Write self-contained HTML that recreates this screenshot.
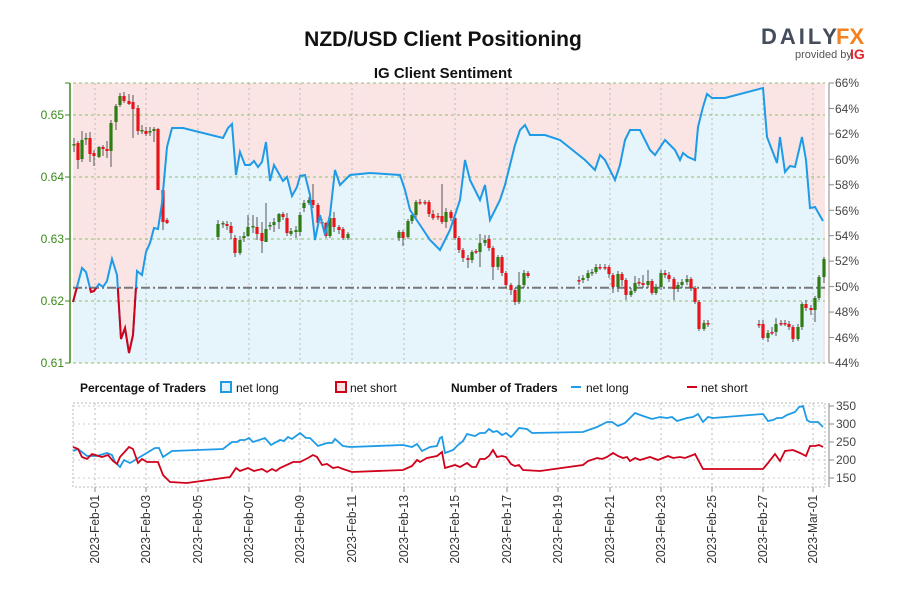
<!DOCTYPE html>
<html><head><meta charset="utf-8">
<style>
body{margin:0;background:#fff;width:900px;height:600px;overflow:hidden;font-family:"Liberation Sans",sans-serif;}
svg text{font-family:"Liberation Sans",sans-serif;}
</style></head>
<body>
<svg id="s" width="900" height="600" xmlns="http://www.w3.org/2000/svg">
<defs>
<clipPath id="below"><rect x="60" y="287.7" width="780" height="80"/></clipPath>
<clipPath id="plot"><rect x="73" y="83" width="752" height="280"/></clipPath>
</defs>
<rect x="0" y="0" width="900" height="600" fill="#fff"/>
<text x="443" y="46" text-anchor="middle" font-size="21" font-weight="bold" fill="#111">NZD/USD Client Positioning</text>
<text x="443" y="78" text-anchor="middle" font-size="15" font-weight="bold" fill="#111">IG Client Sentiment</text>
<text x="761" y="44" font-size="22" font-weight="bold" fill="#454c5c" letter-spacing="3">DAILY</text>
<text x="836" y="44" font-size="22" font-weight="bold" fill="#f58220">FX</text>
<text x="795" y="58" font-size="11" fill="#555">provided by</text>
<text x="850" y="59" font-size="14" font-weight="bold" fill="#e2242b">IG</text>

<rect x="73" y="83" width="752" height="280" fill="#fbe4e4"/>
<path id="fill" fill="#e6f4fb" clip-path="url(#plot)"/>
<g id="grid"></g>
<line x1="73" y1="287.7" x2="825" y2="287.7" stroke="#777" stroke-width="2" stroke-dasharray="9,3,2,3"/>
<g id="candles"></g>
<polyline id="lineB" fill="none" stroke="#1e9be6" stroke-width="2"/>
<polyline id="lineR" fill="none" stroke="#d0021b" stroke-width="2" clip-path="url(#below)"/>

<line x1="70" y1="83" x2="70" y2="363" stroke="#3a8a1a" stroke-width="1.5"/>
<g fill="#3a8a1a" font-size="12" text-anchor="end">
<text x="64" y="119">0.65</text><text x="64" y="181">0.64</text><text x="64" y="243">0.63</text><text x="64" y="305">0.62</text><text x="64" y="367">0.61</text>
</g>
<g id="lt" stroke="#3a8a1a"></g>
<line x1="829" y1="83" x2="829" y2="363" stroke="#888" stroke-width="1"/>
<g id="rt" stroke="#888"></g>
<g fill="#444" font-size="12">
<text x="835" y="87">66%</text><text x="835" y="113">64%</text><text x="835" y="138">62%</text><text x="835" y="164">60%</text><text x="835" y="189">58%</text><text x="835" y="215">56%</text><text x="835" y="240">54%</text><text x="835" y="265">52%</text><text x="835" y="291">50%</text><text x="835" y="316">48%</text><text x="835" y="342">46%</text><text x="835" y="367">44%</text>
</g>

<g font-size="12" fill="#111">
<text x="80" y="392" font-weight="bold">Percentage of Traders</text>
<rect x="221" y="382" width="10" height="10" fill="#e6f4fb" stroke="#1e9be6" stroke-width="2"/>
<text x="236" y="392">net long</text>
<rect x="336" y="382" width="10" height="10" fill="#fbe4e4" stroke="#d0021b" stroke-width="2"/>
<text x="350" y="392">net short</text>
<text x="451" y="392" font-weight="bold">Number of Traders</text>
<line x1="571" y1="387" x2="581" y2="387" stroke="#1e9be6" stroke-width="2"/>
<text x="586" y="392">net long</text>
<line x1="687" y1="387" x2="697" y2="387" stroke="#d0021b" stroke-width="2"/>
<text x="701" y="392">net short</text>
</g>

<rect x="73" y="403" width="752" height="84" fill="none" stroke="#bbb" stroke-dasharray="2,2"/>
<g id="grid2"></g>
<line x1="829" y1="403" x2="829" y2="487" stroke="#888"/>
<g id="rt2" stroke="#888"></g>
<g fill="#444" font-size="12">
<text x="836" y="410">350</text><text x="836" y="428">300</text><text x="836" y="446">250</text><text x="836" y="464">200</text><text x="836" y="482">150</text>
</g>
<polyline id="bl2" fill="none" stroke="#1e9be6" stroke-width="1.8"/>
<polyline id="rl2" fill="none" stroke="#d0021b" stroke-width="1.8"/>
<g id="dates" font-size="12" fill="#333"></g>
</svg>
<script>
const NS="http://www.w3.org/2000/svg";
function el(p,t,a){const e=document.createElementNS(NS,t);for(const k in a)e.setAttribute(k,a[k]);p.appendChild(e);return e;}
const g=document.getElementById('grid'),g2=document.getElementById('grid2');
const tx=[95,146,198,249,300,352,404,455,507,558,610,661,712,763,813];
const names=["2023-Feb-01","2023-Feb-03","2023-Feb-05","2023-Feb-07","2023-Feb-09","2023-Feb-11","2023-Feb-13","2023-Feb-15","2023-Feb-17","2023-Feb-19","2023-Feb-21","2023-Feb-23","2023-Feb-25","2023-Feb-27","2023-Mar-01"];
tx.forEach((x,i)=>{
 el(g,'line',{x1:x,y1:83,x2:x,y2:363,stroke:'#bbb','stroke-dasharray':'2,3'});
 el(g2,'line',{x1:x,y1:403,x2:x,y2:487,stroke:'#bbb','stroke-dasharray':'2,3'});
 el(g2,'line',{x1:x,y1:487,x2:x,y2:492,stroke:'#888'});
});
[83,115,177,239,301,363].forEach(y=>{el(g,'line',{x1:73,y1:y,x2:825,y2:y,stroke:'#8fbf6a','stroke-dasharray':'3,3'});});
const lt=document.getElementById('lt');[115,177,239,301,363,83].forEach(y=>el(lt,'line',{x1:65,y1:y,x2:70,y2:y}));
const rt=document.getElementById('rt');for(let i=0;i<=11;i++){const y=83+i*25.45;el(rt,'line',{x1:829,y1:y,x2:834,y2:y});}
const rt2=document.getElementById('rt2');[406,424,442,460,478].forEach(y=>{el(rt2,'line',{x1:829,y1:y,x2:834,y2:y});el(g2,'line',{x1:73,y1:y,x2:825,y2:y,stroke:'#ccc','stroke-dasharray':'2,3'});});
const dg=document.getElementById('dates');
tx.forEach((x,i)=>{const t=el(dg,'text',{x:0,y:0,'text-anchor':'end',transform:`translate(${x+4},495) rotate(-90) scale(1,1.1)`});t.textContent=names[i];});

const L=[[73,302],[77,287],[82,268],[86,272],[91,292],[94,291],[99,284],[103,287],[107,281],[112,259],[117,275],[121,339],[125,328],[129,353],[133,335],[137,271],[142,275],[146,252],[150,243],[154,228],[158,229],[162,203],[167,147],[172,128],[183,128],[223,138],[228,128],[232,124],[236,175],[240,152],[245,165],[250,165],[254,161],[258,167],[262,162],[266,142],[270,181],[274,165],[283,181],[287,177],[292,196],[297,187],[300,176],[305,175],[310,195],[315,240],[320,215],[325,235],[330,215],[335,170],[340,185],[350,175],[370,173],[400,175],[405,190],[410,210],[420,225],[430,240],[440,250],[445,240],[450,230],[460,200],[465,160],[470,180],[480,200],[485,185],[490,220],[495,210],[500,200],[505,185],[510,165],[515,145],[520,130],[525,125],[530,135],[545,135],[560,140],[585,160],[595,170],[600,155],[605,160],[610,170],[615,180],[620,165],[625,140],[630,130],[640,130],[650,150],[655,155],[665,140],[675,150],[680,160],[683,153],[688,157],[695,160],[698,127],[703,107],[707,94],[712,98],[725,98],[763,88],[767,137],[772,150],[777,163],[780,137],[785,172],[790,166],[795,167],[802,137],[806,160],[810,208],[815,207],[823,221]];
const pts=L.map(p=>p.join(',')).join(' ');
document.getElementById('lineB').setAttribute('points',pts);
document.getElementById('lineR').setAttribute('points',pts);
document.getElementById('fill').setAttribute('d','M73,363 L'+pts.replace(/ /g,' L')+' L823,363 L825,363 Z');

const C=[[74,145,144,138,152],[78,143,160,141,169],[82,159,140,131,162],[86,139,138,133,145],[90,138,154,132,162],[94,153,156,150,166],[99,157,147,146,158],[103,147,149,145,156],[107,149,151,141,158],[111,151,123,120,167],[116,122,106,104,130],[120,105,96,93,107],[124,96,101,92,103],[129,101,104,94,105],[133,102,109,95,138],[138,108,131,105,135],[142,131,130,125,134],[146,131,134,127,136],[150,132,131,127,136],[154,131,129,127,142],[158,129,190,128,190],[163,190,222,190,230],[167,220,223,218,224],
[218,237,224,220,240],[223,224,223,221,228],[227,224,226,221,230],[231,226,233,222,239],[235,238,253,235,257],[240,253,240,236,255],[244,238,236,232,242],[248,236,227,215,237],[253,227,226,215,233],[257,227,234,217,240],[262,233,241,222,253],[266,242,229,203,242],[270,226,225,222,230],[274,225,222,218,232],[279,222,214,213,229],[283,214,217,212,220],[287,218,233,213,236],[291,234,231,228,236],[296,232,230,226,238],[300,232,215,212,236],[304,208,203,200,212],[309,203,200,197,205],[313,200,205,184,208],[318,205,223,203,226],[322,222,223,219,226],[326,223,236,222,238],[330,236,218,215,238],[334,218,227,212,232],[339,227,230,225,234],[343,229,238,227,240],[348,238,234,232,240],
[399,238,232,230,241],[403,232,238,230,246],[408,237,221,219,239],[412,221,215,213,224],[416,215,202,200,218],[420,202,202,199,205],[425,202,203,200,205],[429,202,214,200,217],[433,214,218,210,220],[438,216,217,213,220],[442,216,222,184,224],[446,222,212,208,228],[451,212,218,210,221],[455,218,238,216,240],[459,238,250,236,253],[463,250,258,248,262],[468,258,260,255,268],[472,260,252,250,263],[476,251,252,249,254],[480,252,243,234,267],[485,243,240,235,246],[489,239,248,235,251],[493,248,267,246,280],[498,267,257,255,270],[502,257,273,255,276],[506,273,285,271,288],[511,285,290,283,295],[515,290,302,288,305],[519,302,285,272,304],[524,285,273,270,288],[528,273,276,271,278],
[579,280,280,276,285],[583,280,278,275,283],[588,278,273,270,281],[592,273,272,269,276],[596,272,267,264,274],[600,267,267,264,270],[605,267,267,264,270],[609,267,274,265,278],[613,275,287,273,293],[618,287,274,271,292],[622,274,280,272,286],[626,280,295,278,300],[631,295,291,288,297],[635,291,283,276,293],[639,282,283,278,286],[643,283,285,275,288],[648,285,281,270,288],[652,281,293,279,295],[656,293,287,284,295],[661,287,273,270,290],[665,273,275,270,278],[669,275,279,272,282],[674,279,289,277,300],[678,289,285,282,292],[682,285,282,279,288],[687,282,279,275,285],[691,279,288,277,291],[695,288,302,286,304],[699,302,329,300,331],[704,329,323,320,331],[708,323,323,320,327],
[759,324,324,320,328],[763,324,338,320,340],[768,338,333,330,342],[772,332,332,327,335],[776,332,324,318,336],[781,323,323,320,326],[785,323,323,320,326],[789,324,327,321,330],[793,327,339,325,342],[798,339,327,324,341],[802,327,304,302,330],[806,304,308,300,311],[811,308,310,305,315],[815,310,298,296,322],[819,298,277,275,300],[824,277,259,257,283]];
const cg=document.getElementById('candles');
C.forEach(([x,o,c,h,l])=>{
 el(cg,'line',{x1:x,y1:h,x2:x,y2:l,stroke:'#555','stroke-width':1});
 const up=c<o, top=Math.min(o,c), hh=Math.max(1.5,Math.abs(o-c));
 el(cg,'rect',{x:x-1.6,y:top,width:3.2,height:hh,fill:up?'#2e7d12':'#e8141c'});
});

const B=[[73,451],[78,449],[87,456],[97,456],[107,453],[112,455],[115,462],[120,467],[124,460],[130,463],[140,457],[150,451],[155,448],[159,448],[163,457],[172,451],[223,449],[232,442],[237,442],[240,440],[245,440],[249,438],[253,442],[265,438],[271,445],[280,440],[284,441],[288,437],[292,439],[300,433],[306,438],[310,438],[318,446],[327,443],[332,443],[335,439],[343,446],[350,447],[403,445],[412,447],[417,444],[422,451],[430,447],[437,446],[440,438],[442,437],[445,453],[453,450],[458,445],[463,441],[467,434],[475,436],[480,433],[485,433],[489,429],[493,432],[497,431],[502,435],[506,433],[511,437],[514,434],[519,428],[527,429],[532,433],[583,432],[597,427],[607,422],[612,422],[618,426],[625,423],[635,413],[643,416],[652,419],[660,417],[667,418],[672,417],[677,421],[687,418],[693,417],[698,414],[703,422],[708,417],[713,418],[763,414],[768,421],[773,420],[777,418],[782,418],[787,415],[795,412],[799,407],[803,406],[807,420],[810,422],[818,422],[823,427]];
const R=[[73,447],[78,449],[82,457],[87,459],[92,454],[102,457],[108,455],[113,461],[117,464],[120,457],[129,447],[133,449],[138,463],[142,459],[147,462],[158,462],[163,475],[170,482],[187,483],[230,477],[236,468],[240,471],[248,468],[254,471],[262,469],[267,472],[272,469],[276,471],[280,468],[293,462],[300,462],[308,458],[313,455],[317,457],[322,465],[327,464],[333,468],[338,467],[343,469],[352,472],[403,470],[412,466],[417,460],[420,462],[427,458],[437,456],[442,452],[445,468],[455,465],[460,467],[467,463],[472,467],[476,467],[480,459],[485,459],[489,456],[493,450],[497,457],[502,456],[506,457],[511,464],[515,466],[519,465],[523,470],[540,471],[583,465],[588,461],[597,458],[602,459],[607,457],[613,453],[618,456],[623,458],[627,457],[630,461],[635,458],[640,460],[650,457],[658,460],[668,456],[673,458],[680,457],[685,458],[693,455],[695,454],[703,469],[763,469],[768,463],[775,454],[780,461],[785,451],[793,450],[800,453],[806,456],[810,446],[815,446],[819,445],[823,447]];
document.getElementById('bl2').setAttribute('points',B.map(p=>p.join(',')).join(' '));
document.getElementById('rl2').setAttribute('points',R.map(p=>p.join(',')).join(' '));
</script>
</body></html>
